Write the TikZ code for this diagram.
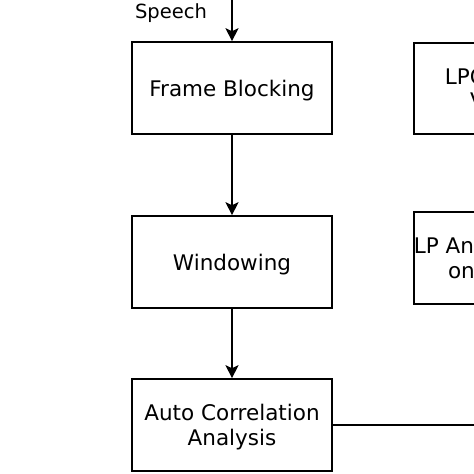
\documentclass[tikz,border=0pt]{standalone}
\usepackage{fontspec}
\setmainfont{DejaVu Sans}
\usetikzlibrary{arrows.meta}
\tikzset{
  block/.style={draw, line width=1.6pt, minimum width=200pt, minimum height=92pt, align=center, inner sep=0pt, text depth=0pt},
  flow/.style={line width=1.5pt, -{Stealth[length=13pt,width=13pt,inset=3pt]}},
}
\begin{document}
\begin{tikzpicture}[x=1pt,y=-1pt,font=\fontsize{21.5}{24.5}\selectfont]
    \useasboundingbox (0,0) rectangle (474,474);
    \clip (0,0) rectangle (474,474);
		\node[block] (frame) at (232,88) {Frame Blocking};
		\node[block] (window) at (232,262) {Windowing};
		\node[block] (autocorr) at (232,425) {Auto Correlation\\Analysis};
		\node[block, minimum width=192pt, minimum height=91pt] (lpc) at (510,88.5) {LPC to LPCC\\Vectors};
		\node[block, minimum width=192pt] (lpan) at (510,258) {LP Analysis based\\on Durbin's};
        \coordinate (in) at (232,-5);
        \node[font=\fontsize{19.5}{22}\selectfont] (speech) at (171,13) {Speech};
		\draw[flow] (in) -- (frame);
		\draw[flow] (frame) -- (window);
		\draw[flow] (window) -- (autocorr);
		\draw[flow] (autocorr) -| (lpan);
    \end{tikzpicture}
\end{document}
